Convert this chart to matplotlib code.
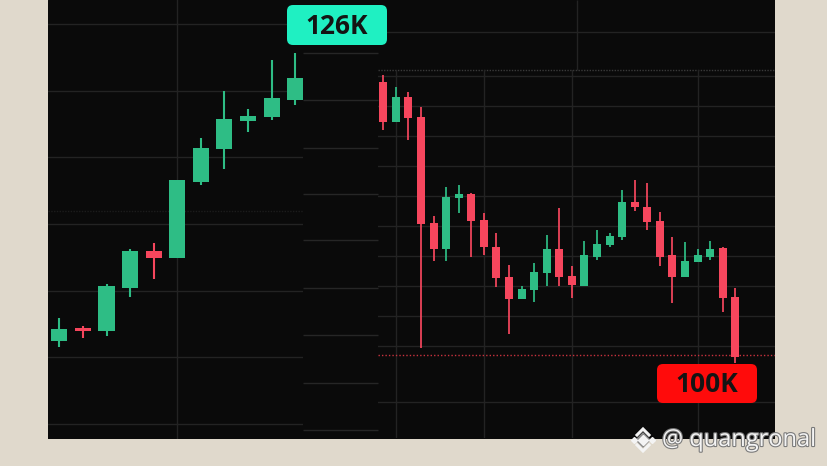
"""
plot.py — two candlestick panels: run-up to 126K, slide back to 100K
"""

import numpy as np
import matplotlib
matplotlib.use("Agg")
import matplotlib.pyplot as plt
import matplotlib.patches as mpatches
import matplotlib.patheffects as pe

# ── Data (prices in thousands) ────────────────────────────────────────────────
L_OPEN  = [108.72, 109.50, 109.32, 111.90, 114.12, 113.70, 118.26, 120.24, 121.92, 122.16, 123.18]
L_HIGH  = [110.10, 109.62, 112.14, 114.24, 114.60, 118.40, 120.90, 123.72, 122.64, 125.58, 126.00]
L_LOW   = [108.36, 108.90, 109.02, 111.36, 112.44, 113.70, 118.08, 119.04, 121.26, 121.98, 122.88]
L_CLOSE = [109.44, 109.32, 112.02, 114.12, 113.70, 118.38, 120.30, 122.04, 122.22, 123.30, 124.50]

R_OPEN  = [116.40, 113.96, 115.46, 114.26, 107.94, 106.34, 109.44, 109.66, 108.10, 106.50,
           104.66, 103.34, 103.90, 104.94, 106.34, 104.74, 104.16, 105.90, 106.60, 107.06,
           109.18, 108.90, 108.04, 106.00, 104.66, 105.60, 105.90, 106.40, 103.50]
R_HIGH  = [116.80, 116.10, 115.76, 114.86, 108.34, 110.10, 110.20, 109.74, 108.54, 107.34,
           105.40, 104.14, 105.52, 107.20, 108.84, 105.34, 106.86, 107.50, 107.34, 109.90,
           110.50, 110.34, 108.60, 107.06, 106.80, 106.34, 106.84, 106.46, 104.00]
R_LOW   = [113.50, 113.96, 112.90, 100.40, 105.64, 105.64, 108.54, 105.90, 106.00, 104.10,
           101.26, 103.34, 103.18, 104.14, 104.14, 103.40, 104.16, 105.70, 106.46, 106.90,
           108.66, 107.50, 105.34, 103.14, 104.66, 105.60, 105.70, 102.56,  99.50]
R_CLOSE = [113.96, 115.46, 114.20, 107.86, 106.34, 109.50, 109.66, 108.04, 106.46, 104.60,
           103.34, 103.94, 104.98, 106.34, 104.70, 104.20, 106.00, 106.66, 107.14, 109.18,
           108.88, 108.00, 105.90, 104.66, 105.66, 105.98, 106.34, 103.44,  99.90]

SUPPORT     = 100.0
PEAK_LABEL  = "126K"
LOW_LABEL   = "100K"
HANDLE      = "@ quangronal"

# ── Style ────────────────────────────────────────────────────────────────────
W, H      = 828, 466
PAPER     = "#e0d9cc"
BLACK     = "#0a0a0a"
GRID      = "#232323"
UP        = "#2ebd85"
DOWN      = "#f6465d"
TEAL_BOX  = "#1ff0c2"
RED_BOX   = "#ff0b0b"


def px_rect(x0, y0, x1, y1):
    """pixel box (top-left origin) -> figure fraction rect"""
    return [x0 / W, 1 - y1 / H, (x1 - x0) / W, (y1 - y0) / H]


def candles(ax, o, h, l, c, width, wick_lw):
    o, h, l, c = map(np.asarray, (o, h, l, c))
    x = np.arange(len(o))
    cols = np.where(c >= o, UP, DOWN)
    ax.vlines(x, l, h, colors=cols, linewidth=wick_lw, zorder=3)
    body = np.maximum(np.abs(c - o), 0.12)
    ax.bar(x, body, bottom=np.minimum(o, c), width=width, color=cols,
           linewidth=0, zorder=4)


def dark_axes(ax):
    ax.set_facecolor("none")
    for s in ax.spines.values():
        s.set_visible(False)
    ax.tick_params(length=0, labelbottom=False, labelleft=False)
    ax.grid(True, color=GRID, linewidth=1.0)
    ax.set_axisbelow(True)


fig = plt.figure(figsize=(W / 100, H / 100), dpi=100, facecolor=PAPER)

# ═══════════════════════════════════════════════════════════════════════════
#  BLACK BACKDROP (pixel coordinates) with the strip grid lines
# ═══════════════════════════════════════════════════════════════════════════
bg = fig.add_axes(px_rect(48, 0, 775, 439))
bg.set_xlim(48, 775)
bg.set_ylim(439, 0)
bg.axis("off")
bg.add_patch(mpatches.Rectangle((48, 0), 727, 439, color=BLACK, zorder=0))
bg.hlines([53, 100, 148, 194, 240, 288, 335, 383, 430], 303, 378,
          color="#262626", linewidth=1.0)
bg.hlines(211, 48, 303, color="#1c1c1c", linewidth=1.0, linestyles=(0, (1, 1)))
bg.hlines(32, 378, 775, color=GRID, linewidth=1.0)
bg.vlines(577, 0, 70, color=GRID, linewidth=1.0)
bg.hlines(70, 378, 775, color="#3a3a3a", linewidth=1.0, linestyles=(0, (1, 1)))

# ═══════════════════════════════════════════════════════════════════════════
#  LEFT PANEL — rally
# ═══════════════════════════════════════════════════════════════════════════
axl = fig.add_axes(px_rect(48, 0, 303, 439))
dark_axes(axl)
candles(axl, L_OPEN, L_HIGH, L_LOW, L_CLOSE, width=0.68, wick_lw=1.5)
axl.set_xlim(-0.48, 10.33)
axl.set_ylim(102.84, 129.18)
axl.set_yticks(np.arange(103.74, 128.5, 4.0))
axl.set_xticks([5])

# ═══════════════════════════════════════════════════════════════════════════
#  RIGHT PANEL — sell-off
# ═══════════════════════════════════════════════════════════════════════════
axr = fig.add_axes(px_rect(378, 70, 775, 438))
dark_axes(axr)
candles(axr, R_OPEN, R_HIGH, R_LOW, R_CLOSE, width=0.64, wick_lw=1.25)
axr.set_xlim(-0.42, 31.16)
axr.set_ylim(95.02, 117.1)
axr.set_yticks(list(np.arange(100.54, 117.0, 1.8)) + [97.18])
axr.set_xticks([1, 8, 15, 25])
axr.axhline(SUPPORT, color="#c8323e", linewidth=1.0, linestyle=(0, (1, 1.5)),
            zorder=2)

# ═══════════════════════════════════════════════════════════════════════════
#  LABELS + WATERMARK
# ═══════════════════════════════════════════════════════════════════════════
ov = fig.add_axes([0, 0, 1, 1], zorder=10)
ov.set_xlim(0, W)
ov.set_ylim(H, 0)
ov.axis("off")

inch = fig.dpi_scale_trans
for (x0, y0, x1, y1), txt, col in [((287, 5, 387, 45), PEAK_LABEL, TEAL_BOX),
                                   ((657, 364, 757, 403), LOW_LABEL, RED_BOX)]:
    box = mpatches.FancyBboxPatch((x0 / 100, (H - y1) / 100),
                                  (x1 - x0) / 100, (y1 - y0) / 100,
                                  boxstyle="round,pad=0,rounding_size=0.06",
                                  transform=inch, facecolor=col, edgecolor="none",
                                  zorder=11)
    fig.add_artist(box)
    fig.text((x0 + x1) / 2 / W, 1 - ((y0 + y1) / 2 + 1) / H, txt, ha="center",
             va="center", fontsize=19, family="Open Sans", fontweight="bold",
             color="#141414", zorder=12)

# little diamond logo next to the handle
shadow = [pe.withStroke(linewidth=3.0, foreground="#8a8a8a")]
ov.plot([643], [440], marker="D", markersize=5, color="#f4f4f4",
        path_effects=shadow)
ov.plot([634, 652], [440, 440], marker="D", markersize=3, linestyle="none",
        color="#f4f4f4")
ov.plot([637, 643, 649], [435, 429, 435], color="#f4f4f4", linewidth=2.2,
        solid_joinstyle="miter")
ov.plot([637, 643, 649], [445, 451, 445], color="#f4f4f4", linewidth=2.2,
        solid_joinstyle="miter")
ov.text(662, 440, HANDLE, ha="left", va="center", fontsize=17,
        family="Open Sans", color="#f4f4f4",
        path_effects=[pe.withStroke(linewidth=1.6, foreground="#7a7a7a")])

fig.savefig("out.png", dpi=100, facecolor=PAPER)
